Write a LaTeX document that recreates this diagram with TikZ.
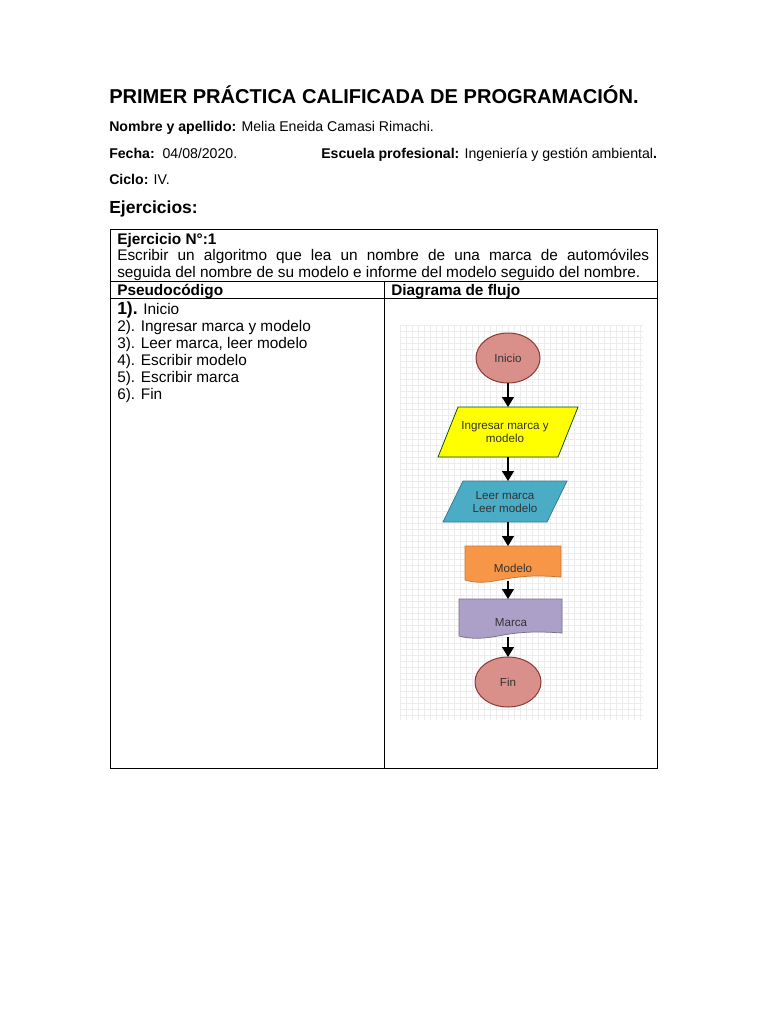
\documentclass[tikz,border=0pt]{standalone}
\usepackage{fontspec}
\setmainfont{Liberation Sans}
\usetikzlibrary{arrows.meta,shapes.geometric}
\definecolor{inifill}{HTML}{D9908B}
\definecolor{iniline}{HTML}{8B3A36}
\definecolor{yel}{HTML}{FFFF00}
\definecolor{teal}{HTML}{4BACC6}
\definecolor{orng}{HTML}{F79646}
\definecolor{purp}{HTML}{ADA0C8}
\definecolor{gridc}{HTML}{ECECEC}
\definecolor{labc}{HTML}{333333}
\tikzset{
  txt/.style={anchor=base west,inner sep=0pt,font=\fontsize{12.3}{13.6}\selectfont},
  hdr/.style={anchor=base west,inner sep=0pt,font=\fontsize{11.3}{13}\selectfont},
  lab/.style={font=\fontsize{9.3}{10.8}\selectfont,text=labc,align=center},
  flow/.style={-{Triangle[width=9.5pt,length=8pt]},line width=1.2pt,black},
  tline/.style={line width=0.8pt,black}
}
\begin{document}
\begin{tikzpicture}[x=0.8pt,y=-0.8pt]
\useasboundingbox (0,0) rectangle (768,1024);
\fill[white] (0,0) rectangle (768,1024);
% header
\node[anchor=base west,inner sep=0pt,font=\fontsize{16.05}{18}\selectfont\bfseries] (title) at (109,104) {PRIMER PRÁCTICA CALIFICADA DE PROGRAMACIÓN.};
\node[hdr] (nom) at (109,132) {\textbf{Nombre y apellido:} Melia Eneida Camasi Rimachi.};
\node[hdr] (fecha) at (109,159) {\textbf{Fecha:}\ \ 04/08/2020.};
\node[hdr] (esc) at (321,159) {\textbf{Escuela profesional:} Ingeniería y gestión ambiental\textbf{.}};
\node[hdr] (ciclo) at (109,185) {\textbf{Ciclo:} IV.};
\node[anchor=base west,inner sep=0pt,font=\fontsize{14}{16}\selectfont\bfseries] (ejer) at (109,214) {Ejercicios:};
% table
\draw[tline] (110,230) rectangle (657,768);
\draw[tline] (110,281) -- (657,281);
\draw[tline] (110,298) -- (657,298);
\draw[tline] (384,281) -- (384,768);
\node[txt] (en) at (117,244) {\textbf{Ejercicio N°:1}};
\node[txt] (l1) at (117,261) {\makebox[425.6pt][s]{Escribir un algoritmo que lea un nombre de una marca de automóviles}};
\node[txt] (l2) at (117,277) {seguida del nombre de su modelo e informe del modelo seguido del nombre.};
\node[txt] (ps) at (117,295) {\textbf{Pseudocódigo}};
\node[txt] (df) at (391,295) {\textbf{Diagrama de flujo}};
\node[txt] (p1) at (117,314) {{\fontsize{14}{16}\selectfont\bfseries 1).} Inicio};
\node[txt] (p2) at (117,331) {2). Ingresar marca y modelo};
\node[txt] (p3) at (117,348) {3). Leer marca, leer modelo};
\node[txt] (p4) at (117,365) {4). Escribir modelo};
\node[txt] (p5) at (117,382) {5). Escribir marca};
\node[txt] (p6) at (117,399) {6). Fin};
% grid
\begin{scope}
\clip (400,325) rectangle (643,720);
\foreach \i in {0,...,41} {\draw[gridc,line width=0.3pt] (400+\i*6,325) -- (400+\i*6,720);}
\foreach \j in {0,...,66} {\draw[gridc,line width=0.3pt] (400,325+\j*6) -- (643,325+\j*6);}
\end{scope}
% flowchart shapes
\draw[fill=inifill,draw=iniline,line width=0.8pt] (508,358) ellipse [x radius=32,y radius=25];
\node[lab] (ini) at (508,358) {Inicio};
\coordinate (inib) at (508,383);
\draw[fill=yel,draw=black!70!green,line width=0.6pt] (458,407) -- (578,407) -- (558,457) -- (438,457) -- cycle;
\node[lab] (ing) at (505,432) {Ingresar marca y\\modelo};
\coordinate (ingt) at (508,407);
\coordinate (ingb) at (508,457);
\draw[fill=teal,draw=teal!70!black,line width=0.6pt] (463,481) -- (567,481) -- (547,522) -- (443,522) -- cycle;
\node[lab] (leer) at (505,502) {Leer marca\\Leer modelo};
\coordinate (leert) at (508,481);
\coordinate (leerb) at (508,522);
\draw[fill=orng,draw=orng!80!black,line width=0.6pt] (465,546) -- (561,546) -- (561,577) .. controls (535,575) and (520,576) .. (500,580) .. controls (485,583) and (475,583) .. (465,580) -- cycle;
\node[lab] (mod) at (513,568) {Modelo};
\coordinate (modt) at (508,546);
\coordinate (modb) at (508,581);
\draw[fill=purp,draw=purp!70!black,line width=0.6pt] (459,599) -- (562,599) -- (562,633) .. controls (535,631) and (518,632) .. (498,636) .. controls (482,639) and (470,639) .. (459,636) -- cycle;
\node[lab] (mar) at (511,623) {Marca};
\coordinate (mart) at (508,599);
\coordinate (marb) at (508,637);
\draw[fill=inifill,draw=iniline,line width=0.8pt] (508,682) ellipse [x radius=33,y radius=25];
\node[lab] (fin) at (508,682) {Fin};
\coordinate (fint) at (508,657);
% connectors
\draw[flow] (inib) -- (ingt);
\draw[flow] (ingb) -- (leert);
\draw[flow] (leerb) -- (modt);
\draw[flow] (modb) -- (mart);
\draw[flow] (marb) -- (fint);
\end{tikzpicture}
\end{document}
